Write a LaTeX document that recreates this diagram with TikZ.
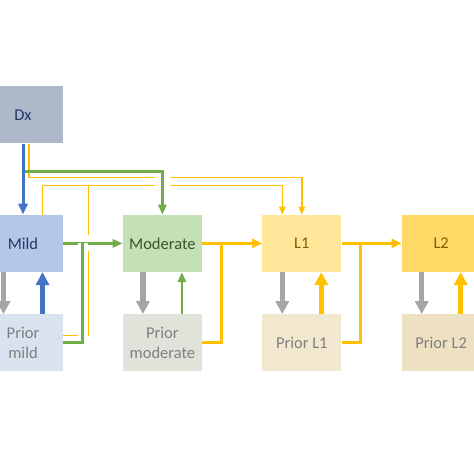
\documentclass[tikz,border=0pt]{standalone}
\usepackage{fontspec}
\setmainfont{Carlito}
\usepackage{xcolor}
\usetikzlibrary{arrows.meta,positioning}
\definecolor{dxfill}{HTML}{ADB9CA}
\definecolor{mildfill}{HTML}{B4C7E7}
\definecolor{pmildfill}{HTML}{D9E2EF}
\definecolor{modfill}{HTML}{C5E0B4}
\definecolor{pmodfill}{HTML}{E0E3DA}
\definecolor{lonefill}{HTML}{FFE699}
\definecolor{ltwofill}{HTML}{FFD966}
\definecolor{plonefill}{HTML}{F2E8CF}
\definecolor{pltwofill}{HTML}{EDE1C1}
\definecolor{navytxt}{HTML}{203864}
\definecolor{greentxt}{HTML}{385723}
\definecolor{browntxt}{HTML}{7F6000}
\definecolor{graytxt}{HTML}{7F7F7F}
\definecolor{c_blue}{HTML}{4472C4}
\definecolor{c_green}{HTML}{70AD47}
\definecolor{c_yel}{HTML}{FFC000}
\definecolor{c_gray}{HTML}{A5A5A5}
\tikzset{
  box/.style = {rectangle, minimum width=79pt, minimum height=57pt,
    inner sep=0pt, align=center, font=\fontsize{16.5}{20}\selectfont},
  box_dx/.style = {box, fill=dxfill, text=navytxt},% diagnose
  box_mild/.style = {box, fill=mildfill, text=navytxt},% niveau leger
  box_mod/.style = {box, fill=modfill, text=greentxt},% niveau modere
  box_l1/.style = {box, fill=lonefill, text=browntxt},
  box_l2/.style = {box, fill=ltwofill, text=browntxt},
  box_p/.style = {box, text=graytxt},% anterieur
  ln_thin/.style = {line width=1.4pt, draw=c_yel},
  ln_green/.style = {line width=2.6pt, draw=c_green},
  ln_yel/.style = {line width=3pt, draw=c_yel},
  up_big/.style = {line width=5pt, -{Triangle[length=13pt,width=13pt]}},
  down_gray/.style = {line width=5.5pt, draw=c_gray,
    -{Triangle[length=13pt,width=13pt]}},
  gap/.style = {draw=white, -}
}

\begin{document}
\begin{tikzpicture}[x=1pt,y=1pt,node distance=60pt]
\useasboundingbox (0,0) rectangle (474,474);
\clip (0,0) rectangle (474,474);
% boxes
\node [box_dx] (dx) at (23,359) {Dx};
\node [box_mild, below=71pt of dx] (mild) {Mild};
\node [box_p, fill=pmildfill, below=42pt of mild] (pmild) {Prior\\mild};
\node [box_mod, right=of mild] (mod) {Moderate};
\node [box_p, fill=pmodfill, below=42pt of mod] (pmod) {Prior\\moderate};
\node [box_l1, right=of mod] (l1) {L1};
\node [box_p, fill=plonefill, below=42pt of l1] (pl1) {Prior L1};
\node [box_l2, right=of l1] (l2) {L2};
\node [box_p, fill=pltwofill, below=42pt of l2] (pl2) {Prior L2};
\coordinate (yjoin) at ([yshift=29pt]mild.north);

% thin yellow lines to L1
\draw [ln_thin, -{Triangle[length=8pt,width=6.5pt]}] ([xshift=6pt]dx.south)
  -- ++(0,-34) -| (l1.north);
\draw [ln_thin, -{Triangle[length=8pt,width=6.5pt]}] ([xshift=19.5pt]mild.north)
  -- ++(0,29) -| ([xshift=-19.5pt]l1.north);
\draw [ln_thin] ([yshift=7.5pt]pmild.east) -| ([xshift=26pt]mild.east |- yjoin);

% green lines
\draw [gap, line width=15pt] ([yshift=40pt]mod.north) -- (mod.north);
\draw [ln_green, -{Triangle[length=10pt,width=8pt]}] ([yshift=-28pt]dx.south)
  -| (mod.north);
\draw [ln_green, preaction={gap, line width=16pt},
  -{Triangle[length=10pt,width=8pt]}] (mild.east) -- (mod.west);
\draw [ln_green, preaction={gap, line width=10pt}] (pmild.east)
  -| ([xshift=20pt]mild.east);
\draw [ln_green, -{Triangle[length=10pt,width=8pt]}] ([xshift=19.5pt]pmod.north)
  -- ([xshift=19.5pt]mod.south);

% thick yellow lines
\draw [ln_yel, -{Triangle[length=10pt,width=9pt]}] (mod.east) -- (l1.west);
\draw [ln_yel] (pmod.east) -| ([xshift=19pt]mod.east);
\draw [ln_yel, -{Triangle[length=10pt,width=9pt]}] (l1.east) -- (l2.west);
\draw [ln_yel] (pl1.east) -| ([xshift=19pt]l1.east);
\draw [up_big, draw=c_yel, line width=4.5pt] ([xshift=19.5pt]pl1.north)
  -- ([xshift=19.5pt]l1.south);
\draw [up_big, draw=c_yel, line width=4.5pt] ([xshift=19.5pt]pl2.north)
  -- ([xshift=19.5pt]l2.south);

% blue lines
\draw [line width=3pt, draw=c_blue, -{Triangle[length=11pt,width=9pt]}]
  (dx.south) -- (mild.north);
\draw [up_big, draw=c_blue] ([xshift=19.5pt]pmild.north)
  -- ([xshift=19.5pt]mild.south);

% gray lines
\draw [down_gray] ([xshift=-19.5pt]mild.south) -- ([xshift=-19.5pt]pmild.north);
\draw [down_gray] ([xshift=-19.5pt]mod.south) -- ([xshift=-19.5pt]pmod.north);
\draw [down_gray] ([xshift=-19.5pt]l1.south) -- ([xshift=-19.5pt]pl1.north);
\draw [down_gray] ([xshift=-19.5pt]l2.south) -- ([xshift=-19.5pt]pl2.north);
\end{tikzpicture}
\end{document}
